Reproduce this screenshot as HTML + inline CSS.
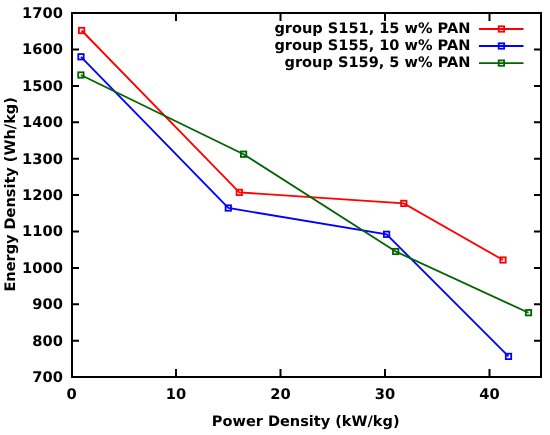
<!DOCTYPE html>
<html><head><meta charset="utf-8"><style>
html,body{margin:0;padding:0;background:#fff;width:550px;height:435px;overflow:hidden}
svg{display:block}
text{text-rendering:geometricPrecision;font-family:"DejaVu Sans","Liberation Sans",sans-serif;font-weight:bold;font-size:14.67px;fill:#000}
</style></head><body>
<svg width="550" height="435" viewBox="0 0 550 435">
<rect x="72" y="13" width="469" height="364" fill="none" stroke="#000" stroke-width="2"/>
<path d="M72 340.70h7M541 340.70h-7" stroke="#000" stroke-width="2"/>
<path d="M72 304.30h7M541 304.30h-7" stroke="#000" stroke-width="2"/>
<path d="M72 267.90h7M541 267.90h-7" stroke="#000" stroke-width="2"/>
<path d="M72 231.50h7M541 231.50h-7" stroke="#000" stroke-width="2"/>
<path d="M72 195.10h7M541 195.10h-7" stroke="#000" stroke-width="2"/>
<path d="M72 158.70h7M541 158.70h-7" stroke="#000" stroke-width="2"/>
<path d="M72 122.30h7M541 122.30h-7" stroke="#000" stroke-width="2"/>
<path d="M72 85.90h7M541 85.90h-7" stroke="#000" stroke-width="2"/>
<path d="M72 49.50h7M541 49.50h-7" stroke="#000" stroke-width="2"/>
<text x="62.9" y="382.00" text-anchor="end">700</text>
<text x="62.9" y="345.60" text-anchor="end">800</text>
<text x="62.9" y="309.20" text-anchor="end">900</text>
<text x="62.9" y="272.80" text-anchor="end">1000</text>
<text x="62.9" y="236.40" text-anchor="end">1100</text>
<text x="62.9" y="200.00" text-anchor="end">1200</text>
<text x="62.9" y="163.60" text-anchor="end">1300</text>
<text x="62.9" y="127.20" text-anchor="end">1400</text>
<text x="62.9" y="90.80" text-anchor="end">1500</text>
<text x="62.9" y="54.40" text-anchor="end">1600</text>
<text x="62.9" y="18.00" text-anchor="end">1700</text>
<text x="71.5" y="399" text-anchor="middle">0</text>
<path d="M176 377v-8M176 13v8" stroke="#000" stroke-width="2"/>
<text x="176" y="399" text-anchor="middle">10</text>
<path d="M280.5 377v-8M280.5 13v8" stroke="#000" stroke-width="2"/>
<text x="280.5" y="399" text-anchor="middle">20</text>
<path d="M385 377v-8M385 13v8" stroke="#000" stroke-width="2"/>
<text x="385" y="399" text-anchor="middle">30</text>
<path d="M489.5 377v-8M489.5 13v8" stroke="#000" stroke-width="2"/>
<text x="489.5" y="399" text-anchor="middle">40</text>
<text x="470.4" y="33.0" text-anchor="end" style="font-size:14.55px">group S151, 15 w% PAN</text>
<text x="470.4" y="50.3" text-anchor="end" style="font-size:14.55px">group S155, 10 w% PAN</text>
<text x="470.4" y="67.4" text-anchor="end" style="font-size:14.55px">group S159, 5 w% PAN</text>
<polyline points="81.6,30.5 239.3,192.4 403.8,203.4 503,260" fill="none" stroke="#ff0000" stroke-width="1.8" stroke-linejoin="miter"/>
<rect x="78.90" y="27.80" width="5.4" height="5.4" fill="none" stroke="#ff0000" stroke-width="1.8"/>
<rect x="236.60" y="189.70" width="5.4" height="5.4" fill="none" stroke="#ff0000" stroke-width="1.8"/>
<rect x="401.10" y="200.70" width="5.4" height="5.4" fill="none" stroke="#ff0000" stroke-width="1.8"/>
<rect x="500.30" y="257.30" width="5.4" height="5.4" fill="none" stroke="#ff0000" stroke-width="1.8"/>
<polyline points="81,56.8 228.3,208 386.6,234.3 508.5,356.4" fill="none" stroke="#0000ff" stroke-width="1.8" stroke-linejoin="miter"/>
<rect x="78.30" y="54.10" width="5.4" height="5.4" fill="none" stroke="#0000ff" stroke-width="1.8"/>
<rect x="225.60" y="205.30" width="5.4" height="5.4" fill="none" stroke="#0000ff" stroke-width="1.8"/>
<rect x="383.90" y="231.60" width="5.4" height="5.4" fill="none" stroke="#0000ff" stroke-width="1.8"/>
<rect x="505.80" y="353.70" width="5.4" height="5.4" fill="none" stroke="#0000ff" stroke-width="1.8"/>
<polyline points="80.9,75 243.6,154.2 395.7,251.5 528.5,312.7" fill="none" stroke="#006400" stroke-width="1.8" stroke-linejoin="miter"/>
<rect x="78.20" y="72.30" width="5.4" height="5.4" fill="none" stroke="#006400" stroke-width="1.8"/>
<rect x="240.90" y="151.50" width="5.4" height="5.4" fill="none" stroke="#006400" stroke-width="1.8"/>
<rect x="393.00" y="248.80" width="5.4" height="5.4" fill="none" stroke="#006400" stroke-width="1.8"/>
<rect x="525.80" y="310.00" width="5.4" height="5.4" fill="none" stroke="#006400" stroke-width="1.8"/>
<path d="M479 29.0H523.5" stroke="#ff0000" stroke-width="1.8"/>
<rect x="498.70" y="26.30" width="5.4" height="5.4" fill="none" stroke="#ff0000" stroke-width="1.8"/>
<path d="M479 46.0H523.5" stroke="#0000ff" stroke-width="1.8"/>
<rect x="498.70" y="43.30" width="5.4" height="5.4" fill="none" stroke="#0000ff" stroke-width="1.8"/>
<path d="M479 63.1H523.5" stroke="#006400" stroke-width="1.8"/>
<rect x="498.70" y="60.40" width="5.4" height="5.4" fill="none" stroke="#006400" stroke-width="1.8"/>
<text x="305.7" y="425.8" text-anchor="middle" style="font-size:14.52px">Power Density (kW/kg)</text>
<text transform="translate(15,194.4) rotate(-90)" text-anchor="middle" style="font-size:14.52px">Energy Density (Wh/kg)</text>
</svg>
</body></html>
